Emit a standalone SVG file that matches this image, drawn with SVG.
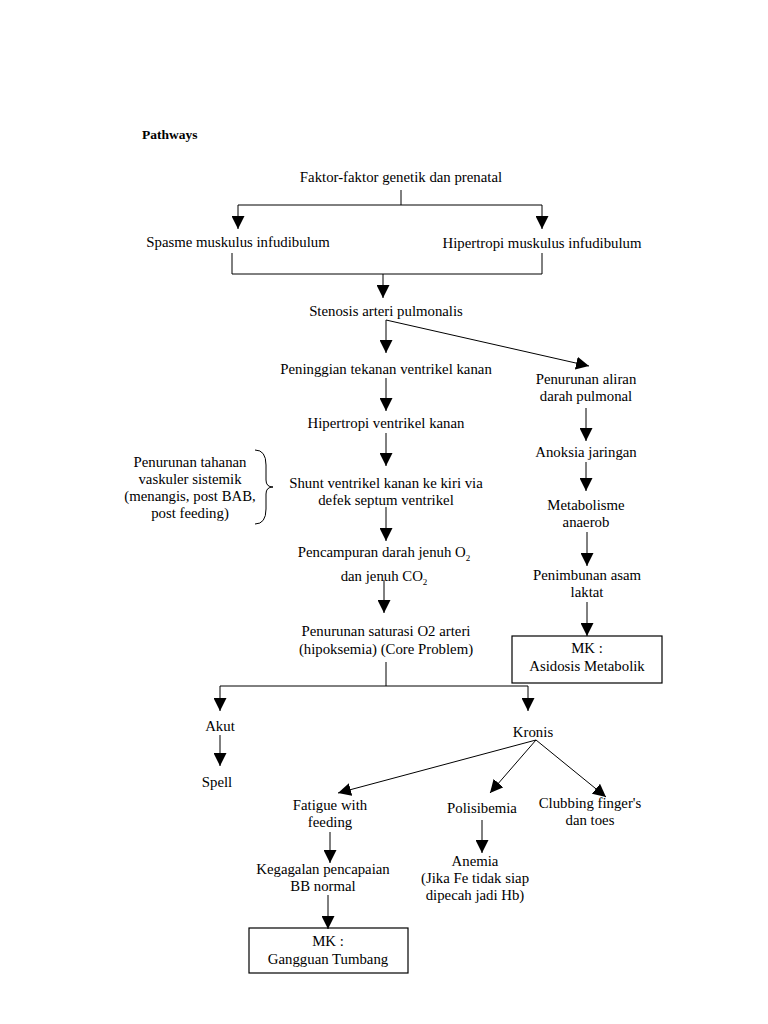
<svg xmlns="http://www.w3.org/2000/svg" width="768" height="1024" viewBox="0 0 768 1024">
<style>
text{font-family:"Liberation Serif","Times New Roman",serif;font-size:14.8px;fill:#000;text-anchor:middle}
.l{fill:none;stroke:#000;stroke-width:1}
.b{fill:none;stroke:#000;stroke-width:1.2}
</style>
<defs>
<marker id="a" viewBox="0 0 10 10" refX="10" refY="5" markerWidth="13" markerHeight="13" markerUnits="userSpaceOnUse" orient="auto">
<path d="M0,0 L10,5 L0,10 z" fill="#000"/>
</marker>
</defs>
<rect width="768" height="1024" fill="#fff"/>
<text x="142" y="139" style="text-anchor:start;font-weight:bold;font-size:13.5px">Pathways</text>
<g id="connectors">
<path class="l" d="M401,190 V205 M238,205 H542"/>
<path class="l" d="M238,205 V229" marker-end="url(#a)"/>
<path class="l" d="M542,205 V229" marker-end="url(#a)"/>
<path class="l" d="M232,253 V274 H542 V253"/>
<path class="l" d="M383,274 V298" marker-end="url(#a)"/>
<path class="l" d="M386,320 V353" marker-end="url(#a)"/>
<path class="l" d="M386,320 L589,366" marker-end="url(#a)"/>
<path class="l" d="M386,378 V411" marker-end="url(#a)"/>
<path class="l" d="M586,408 V441" marker-end="url(#a)"/>
<path class="l" d="M386,433 V466" marker-end="url(#a)"/>
<path class="l" d="M586,462 V491" marker-end="url(#a)"/>
<path class="l" d="M386,507 V541" marker-end="url(#a)"/>
<path class="l" d="M587,532 V566" marker-end="url(#a)"/>
<path class="l" d="M384,580 V613" marker-end="url(#a)"/>
<path class="l" d="M587,602 V636" marker-end="url(#a)"/>
<path class="l" d="M386,662 V686 M220,686 H528"/>
<path class="l" d="M220,686 V711" marker-end="url(#a)"/>
<path class="l" d="M528,686 V711" marker-end="url(#a)"/>
<path class="l" d="M220,735 V766" marker-end="url(#a)"/>
<path class="l" d="M536,740 L338,793" marker-end="url(#a)"/>
<path class="l" d="M536,740 L490,793" marker-end="url(#a)"/>
<path class="l" d="M536,740 L606,797" marker-end="url(#a)"/>
<path class="l" d="M330,832 V863" marker-end="url(#a)"/>
<path class="l" d="M482,820 V853" marker-end="url(#a)"/>
<path class="l" d="M328,895 V929" marker-end="url(#a)"/>
<path class="l" d="M255,450 Q266,450 266,465 V480 Q266,487 273,487 Q266,487 266,494 V509 Q266,524 255,524"/>
</g>
<g id="n1"><text x="401" y="182">Faktor-faktor genetik dan prenatal</text></g>
<g id="n2"><text x="238" y="247">Spasme muskulus infudibulum</text></g>
<g id="n3"><text x="542" y="248">Hipertropi muskulus infudibulum</text></g>
<g id="n4"><text x="386" y="316">Stenosis arteri pulmonalis</text></g>
<g id="n5"><text x="386" y="374">Peninggian tekanan ventrikel kanan</text></g>
<g id="n6"><text x="586" y="384">Penurunan aliran</text><text x="586" y="401">darah pulmonal</text></g>
<g id="n7"><text x="386" y="428">Hipertropi ventrikel kanan</text></g>
<g id="n8"><text x="586" y="457">Anoksia jaringan</text></g>
<g id="n9"><text x="190" y="467">Penurunan tahanan</text><text x="190" y="484">vaskuler sistemik</text><text x="190" y="501">(menangis, post BAB,</text><text x="190" y="518">post feeding)</text></g>
<g id="n10"><text x="386" y="488">Shunt ventrikel kanan ke kiri via</text><text x="386" y="505">defek septum ventrikel</text></g>
<g id="n11"><text x="586" y="510">Metabolisme</text><text x="586" y="527">anaerob</text></g>
<g id="n12"><text x="384" y="557">Pencampuran darah jenuh O<tspan font-size="9" dy="4">2</tspan></text><text x="384" y="581">dan jenuh CO<tspan font-size="9" dy="4">2</tspan></text></g>
<g id="n13"><text x="587" y="580">Penimbunan asam</text><text x="587" y="597">laktat</text></g>
<g id="n14"><rect class="b" x="512" y="636" width="150" height="47"/><text x="587" y="653">MK :</text><text x="587" y="671">Asidosis Metabolik</text></g>
<g id="n15"><text x="386" y="636">Penurunan saturasi O2 arteri</text><text x="386" y="654">(hipoksemia) (Core Problem)</text></g>
<g id="n16"><text x="220" y="731">Akut</text></g>
<g id="n17"><text x="217" y="787">Spell</text></g>
<g id="n18"><text x="533" y="737">Kronis</text></g>
<g id="n19"><text x="330" y="810">Fatigue with</text><text x="330" y="827">feeding</text></g>
<g id="n20"><text x="482" y="813">Polisibemia</text></g>
<g id="n21"><text x="590" y="808">Clubbing finger's</text><text x="590" y="825">dan toes</text></g>
<g id="n22"><text x="323" y="874">Kegagalan pencapaian</text><text x="323" y="891">BB normal</text></g>
<g id="n23"><text x="475" y="866">Anemia</text><text x="475" y="883">(Jika Fe tidak siap</text><text x="475" y="900">dipecah jadi Hb)</text></g>
<g id="n24"><rect class="b" x="249" y="928" width="159" height="45"/><text x="328" y="946">MK :</text><text x="328" y="964">Gangguan Tumbang</text></g>
</svg>
